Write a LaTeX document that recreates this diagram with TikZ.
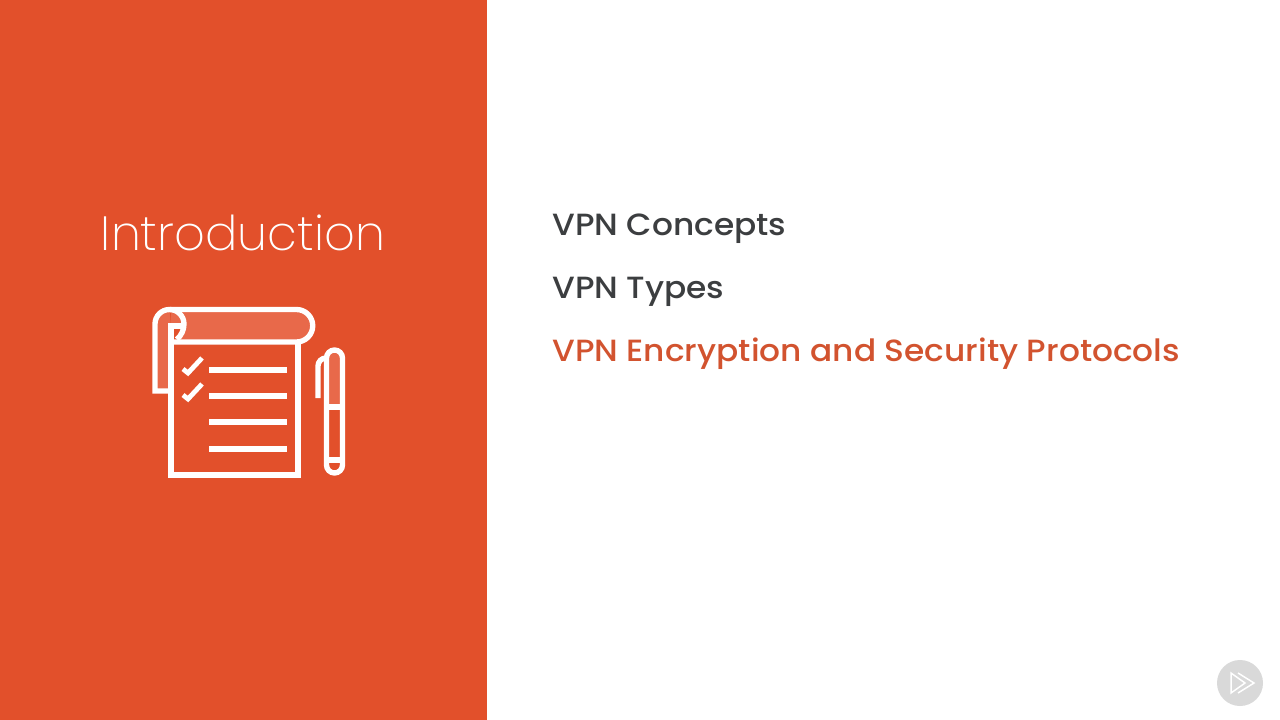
\documentclass[tikz,border=0pt]{standalone}
\usepackage{fontspec}
\setmainfont{Poppins}
\newfontfamily\titlefont[UprightFont=* ExtraLight]{Poppins}
\newfontfamily\itemfont[UprightFont=* Medium,FakeStretch=1.07]{Poppins}
\usepackage{xcolor}
\usetikzlibrary{positioning}
\definecolor{brandred}{HTML}{E2502B}
\definecolor{rolllight}{HTML}{E8694A}
\definecolor{itemgray}{HTML}{3C3E40}
\definecolor{itemred}{HTML}{D2532F}
\definecolor{playgray}{HTML}{D9D9D9}

\begin{document}
\begin{tikzpicture}[
    x=0.75pt, y=-0.75pt,
    title/.style={inner sep=0pt, anchor=base, text=white, font=\titlefont\fontsize{36}{40}\selectfont},
    item/.style={inner sep=0pt, anchor=base west, text=itemgray, font=\itemfont\fontsize{23}{28}\selectfont},
    iconline/.style={draw=white, line width=4pt},
    rule/.style={draw=white, line width=4pt},
    tick/.style={draw=white, line width=3.6pt},
    playline/.style={draw=white, line width=1.1pt}
]

\useasboundingbox (0,0) rectangle (1280,720);
\fill[white] (0,0) rectangle (1280,720);
\fill[brandred] (0,0) rectangle (487,720);

\node[title] (heading) at (243,250) {Introduction};

\node[item] (concepts) at (552,236) {VPN Concepts};
\node[item] (types) at (552,298) {VPN Types};
\node[item, text=itemred] (protocols) at (552,361) {VPN Encryption and Security Protocols};

% roll and flap
\fill[rolllight] (171,342) -- (296.5,342) arc (90:-90:16.25) -- (171,309.5) -- cycle;
\fill[rolllight] (155,391) -- (155,324) arc (180:270:14.5) -- (171,326) -- (171,391) -- cycle;
\fill[brandred] (171,326) -- (184,326) -- (184,329) -- (177,342) -- (171,342) -- cycle;
\draw[iconline] (171,391) -- (155,391) -- (155,324) arc (180:270:14.5) -- (296.5,309.5)
    arc (-90:90:16.25) -- (171,342);
\draw[iconline] (169.5,309.5) arc (-90:0:14.5) arc (0:50:20);
\draw[iconline] (184,326) -- (171,326) -- (171,475) -- (298,475) -- (298,342);

% list lines
\foreach \y in {370,396,422,449}
    \draw[rule] (209,\y) -- (287,\y);
\foreach \y in {0,26}
    \draw[tick] (183,369+\y) -- (188,373+\y) -- (202,358+\y);

% pen
\fill[rolllight] (326.5,407) -- (326.5,358) arc (180:360:8) -- (342.5,407) -- cycle;
\draw[iconline] (326.5,358) arc (180:360:8) -- (342.5,465) arc (0:180:8) -- cycle;
\draw[iconline] (318,398) -- (318,366) arc (180:270:8) -- (326.5,358);
\draw[iconline] (326.5,407) -- (342.5,407);
\draw[draw=white, line width=5.2pt] (326.5,460) -- (342.5,460);

% player badge
\fill[playgray] (1240,683) circle (23);
\draw[playline] (1231,673) -- (1245,683) -- (1231,693) -- cycle;
\draw[playline] (1238,673) -- (1254,683) -- (1238,693);

\end{tikzpicture}
\end{document}
